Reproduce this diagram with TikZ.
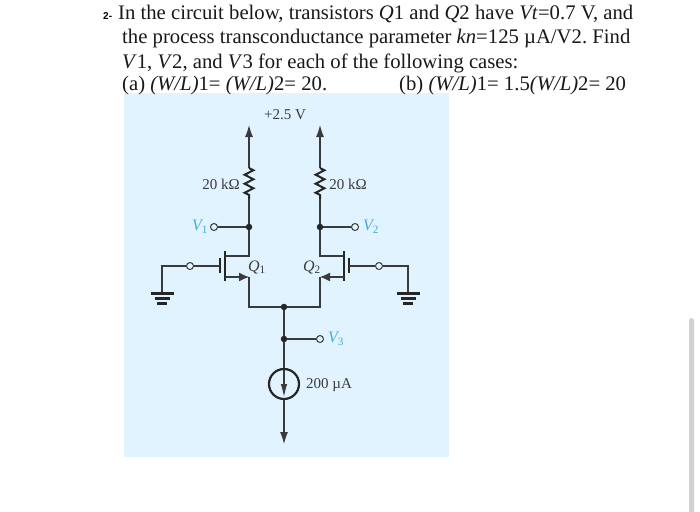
\documentclass[tikz,border=0pt]{standalone}
\usepackage{fontspec}
\setmainfont{Liberation Serif}
\newfontfamily\headfont{Liberation Sans}
\usetikzlibrary{arrows.meta, decorations.pathmorphing}
\definecolor{panelblue}{HTML}{E1F3FE}
\definecolor{wirecol}{HTML}{3A3A3C}
\definecolor{labelblue}{HTML}{3FAEDC}
\frenchspacing
\tikzset{
    wire/.style={draw=wirecol, line width=1.1pt},
    thickbar/.style={draw=black!85, line width=2.6pt},
    dot/.style={circle, fill=black!85, inner sep=0pt, minimum size=6.5pt},
    term/.style={circle, draw=wirecol, fill=panelblue, line width=1pt, inner sep=0pt, minimum size=7pt},
    res/.style={draw=black!85, line width=2pt, decorate, decoration={zigzag, amplitude=4.4pt, segment length=9pt}},
    tip/.style={-{Latex[length=12pt, width=8pt]}},
    smalltip/.style={-{Latex[length=10pt, width=9pt]}},
    lab/.style={font=\fontsize{15}{17}\selectfont, text=wirecol, inner sep=0pt},
    vlab/.style={font=\fontsize{16}{18}\selectfont\itshape, text=labelblue, inner sep=0pt},
    qlab/.style={font=\fontsize{16}{18}\selectfont\itshape, text=wirecol, inner sep=0pt},
    headline/.style={font=\fontsize{20.7}{23}\selectfont, text=black!90, anchor=base west, inner sep=0pt}
}
\begin{document}
\begin{tikzpicture}[x=1pt, y=-1pt]
    \useasboundingbox (0, 0) rectangle (700, 511);
    \fill[white] (0, 0) rectangle (700, 511);
    \fill[panelblue] (124, 93) rectangle (449, 457);
    \fill[black!18, rounded corners=2.5pt] (689, 520) -- (689, 318) -- (694, 318) -- (694, 520) -- cycle;

    \node[anchor=base west, inner sep=0pt, font=\headfont\bfseries\fontsize{10}{12}\selectfont] (num) at (103, 19.5) {2-};
    \node[headline] (line1) at (118, 19.5) {In the circuit below, transistors \textit{Q}1 and \textit{Q}2 have \textit{Vt}=0.7 V, and};
    \node[headline] (line2) at (122, 44) {the process transconductance parameter \textit{kn}=125 µA/V2. Find};
    \node[headline] (line3) at (122, 68) {\textit{V}1, \textit{V}2, and \textit{V}3 for each of the following cases:};
    \node[headline] (line4) at (122, 90) {(a) \textit{(W/L)}1= \textit{(W/L)}2= 20.};
    \node[headline] (line4b) at (399, 90) {(b) \textit{(W/L)}1= 1.5\textit{(W/L)}2= 20};

    \node[lab] (supply) at (285, 115) {+2.5 V};
    \coordinate (top1) at (249, 125);
    \coordinate (top2) at (320, 125);
    \coordinate (res1a) at (249, 168);
    \coordinate (res1b) at (249, 199);
    \coordinate (res2a) at (320, 168);
    \coordinate (res2b) at (320, 199);
    \node[dot] (d1) at (249, 227) {};
    \node[dot] (d2) at (320, 227) {};
    \node[term] (v1) at (214, 227) {};
    \node[term] (v2) at (355, 227) {};
    \coordinate (drain1) at (249, 256);
    \coordinate (drain2) at (320, 256);
    \coordinate (ch1) at (225, 256);
    \coordinate (ch2) at (344, 256);
    \coordinate (src1) at (249, 277);
    \coordinate (src2) at (320, 277);
    \coordinate (sch1) at (225, 277);
    \coordinate (sch2) at (344, 277);
    \node[term] (g1) at (190, 266) {};
    \node[term] (g2) at (379, 266) {};
    \coordinate (gb1) at (220, 266);
    \coordinate (gb2) at (349, 266);
    \coordinate (gnd1) at (162, 293.5);
    \coordinate (gnd2) at (408, 293.5);
    \node[dot] (tail) at (284, 307) {};
    \node[dot] (d3) at (284, 339) {};
    \node[term] (v3) at (320, 339) {};
    \node[circle, draw=black!85, line width=2.2pt, inner sep=0pt, minimum size=30pt] (isrc) at (284, 384) {};
    \coordinate (bottom) at (284, 444);

    \draw[wire, tip] (res1a) -- (top1);
    \draw[wire, tip] (res2a) -- (top2);
    \draw[res] (res1a) -- (res1b);
    \draw[res] (res2a) -- (res2b);
    \draw[wire] (res1b) -- (d1) -- (drain1) -- (ch1);
    \draw[wire] (res2b) -- (d2) -- (drain2) -- (ch2);
    \draw[wire] (d1) -- (v1);
    \draw[wire] (d2) -- (v2);
    \draw[thickbar] (225, 251) -- (225, 281);
    \draw[thickbar] (344, 251) -- (344, 281);
    \draw[thickbar] (220, 258) -- (220, 273);
    \draw[thickbar] (349, 258) -- (349, 273);
    \draw[wire] (gb1) -- (g1) -| (gnd1);
    \draw[wire] (gb2) -- (g2) -| (gnd2);
    \draw[wire, smalltip] (sch1) -- (src1);
    \draw[wire, smalltip] (sch2) -- (src2);
    \draw[wire] (src1) |- (tail) -| (src2);
    \draw[wire] (tail) -- (d3) -- (isrc);
    \draw[wire] (d3) -- (v3);
    \draw[wire, tip] (isrc) -- (bottom);
    \draw[wire, -{Latex[length=13pt, width=6.5pt]}] (284, 370) -- (284, 397);

    \foreach \g in {gnd1, gnd2} {
        \fill[black!85] ([xshift=-11.5pt, yshift=1.2pt]\g) rectangle ([xshift=11.5pt, yshift=-1.2pt]\g);
        \fill[black!85] ([xshift=-7.5pt, yshift=-3.5pt]\g) rectangle ([xshift=7.5pt, yshift=-6pt]\g);
        \fill[black!85] ([xshift=-5pt, yshift=-8.5pt]\g) rectangle ([xshift=5pt, yshift=-11pt]\g);
    }

    \node[lab] (r1) at (221, 184) {20 kΩ};
    \node[lab] (r2) at (348, 184) {20 kΩ};
    \node[vlab] (lv1) at (200, 227) {V\textsubscript{\upshape 1}};
    \node[vlab] (lv2) at (371, 227) {V\textsubscript{\upshape 2}};
    \node[vlab] (lv3) at (336, 339) {V\textsubscript{\upshape 3}};
    \node[qlab] (q1) at (257, 267) {Q\textsubscript{\upshape 1}};
    \node[qlab] (q2) at (312, 267) {Q\textsubscript{\upshape 2}};
    \node[lab, anchor=west] (ival) at (306, 385) {200 µA};
\end{tikzpicture}
\end{document}
